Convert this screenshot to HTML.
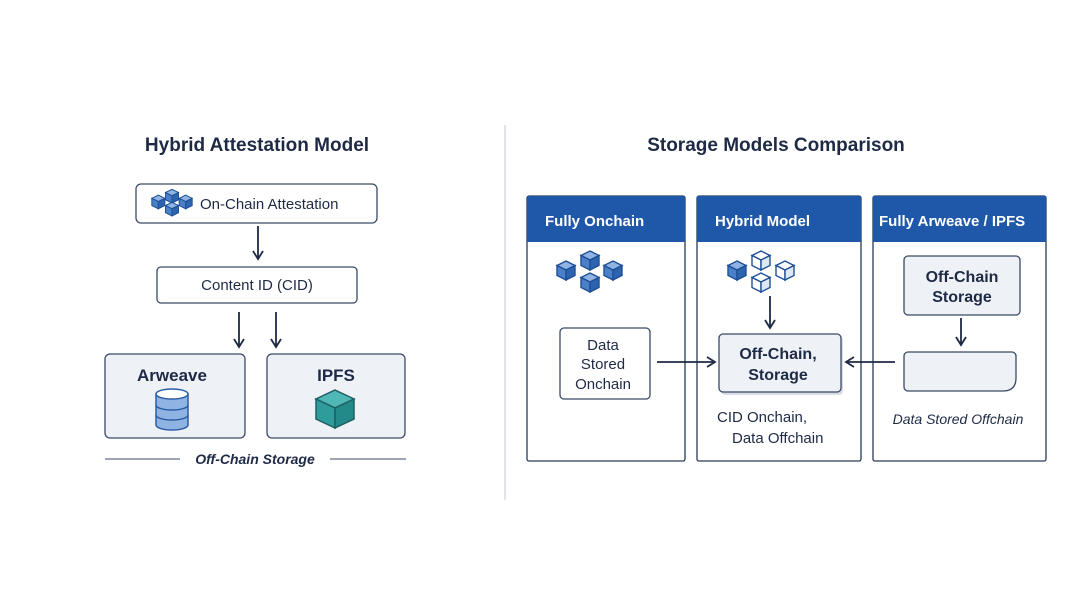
<!DOCTYPE html>
<html><head><meta charset="utf-8"><style>
body{margin:0;background:#fff;width:1080px;height:608px;overflow:hidden;font-family:"Liberation Sans",sans-serif}
svg text{font-family:"Liberation Sans",sans-serif;fill:#1e2a45}
</style></head><body>
<svg width="1080" height="608" viewBox="0 0 1080 608">
<defs>
<g id="cube">
<polygon points="0,-9 9,-4.5 0,0 -9,-4.5" fill="#8fb4e3" stroke="#1e4f96" stroke-width="1.4"/>
<polygon points="-9,-4.5 0,0 0,10 -9,5.5" fill="#4a80c8" stroke="#1e4f96" stroke-width="1.4"/>
<polygon points="9,-4.5 0,0 0,10 9,5.5" fill="#2d64b0" stroke="#1e4f96" stroke-width="1.4"/>
</g>
<g id="wcube">
<polygon points="0,-9 9,-4.5 0,0 -9,-4.5" fill="#fff" stroke="#1e4f96" stroke-width="1.4"/>
<polygon points="-9,-4.5 0,0 0,10 -9,5.5" fill="#fff" stroke="#1e4f96" stroke-width="1.4"/>
<polygon points="9,-4.5 0,0 0,10 9,5.5" fill="#dde8f6" stroke="#1e4f96" stroke-width="1.4"/>
</g>
<marker id="ah" markerWidth="12" markerHeight="12" refX="10" refY="6" orient="auto" markerUnits="userSpaceOnUse">
<path d="M2,1 L10,6 L2,11" fill="none" stroke="#1e2a45" stroke-width="1.8"/>
</marker>
</defs>
<text x="257" y="151" font-size="19" font-weight="bold" text-anchor="middle">Hybrid Attestation Model</text>
<rect x="136" y="184" width="241" height="39" rx="5" fill="#fff" stroke="#3a4a66" stroke-width="1.3"/>
<g transform="translate(172,203) scale(0.72)"><use href="#cube" x="-19" y="-2"/><use href="#cube" x="0" y="-10"/><use href="#cube" x="19" y="-2"/><use href="#cube" x="0" y="8"/></g>
<text x="200" y="209" font-size="15">On-Chain Attestation</text>
<rect x="157" y="267" width="200" height="36" rx="4" fill="#fff" stroke="#3a4a66" stroke-width="1.3"/>
<text x="257" y="290" font-size="15" text-anchor="middle">Content ID (CID)</text>
<rect x="105" y="354" width="140" height="84" rx="5" fill="#eef1f6" stroke="#3a4a66" stroke-width="1.3"/>
<text x="172" y="381" font-size="17" font-weight="bold" text-anchor="middle">Arweave</text>
<g fill="#8fb4e3" stroke="#2d5da6" stroke-width="1.5">
<path d="M156,394 v31 a16,5 0 0 0 32,0 v-31"/>
<path d="M156,405 a16,5 0 0 0 32,0 M156,415 a16,5 0 0 0 32,0" fill="none"/>
<ellipse cx="172" cy="394" rx="16" ry="5" fill="#fff"/>
</g>
<rect x="267" y="354" width="138" height="84" rx="5" fill="#eef1f6" stroke="#3a4a66" stroke-width="1.3"/>
<text x="336" y="381" font-size="17" font-weight="bold" text-anchor="middle">IPFS</text>
<g stroke="#1f5f63" stroke-width="1.5">
<polygon points="335,390 354,399 335,408 316,399" fill="#4fb7b5"/>
<polygon points="316,399 335,408 335,428 316,419" fill="#2e9c9a"/>
<polygon points="354,399 335,408 335,428 354,419" fill="#238a89"/>
</g>
<line x1="105" y1="459" x2="180" y2="459" stroke="#3a4a66" stroke-width="1"/>
<line x1="330" y1="459" x2="406" y2="459" stroke="#3a4a66" stroke-width="1"/>
<text x="255" y="464" font-size="14" font-weight="bold" font-style="italic" text-anchor="middle">Off-Chain Storage</text>
<line x1="505" y1="125" x2="505" y2="500" stroke="#cfd3da" stroke-width="1.2"/>
<text x="776" y="151" font-size="19" font-weight="bold" text-anchor="middle">Storage Models Comparison</text>
<g stroke="#2a3a58" stroke-width="1.3">
<rect x="527" y="196" width="158" height="265" rx="2" fill="#fff"/>
<rect x="697" y="196" width="164" height="265" rx="2" fill="#fff"/>
<rect x="873" y="196" width="173" height="265" rx="2" fill="#fff"/>
</g>
<g fill="#1f58a8">
<rect x="527" y="196" width="158" height="46"/>
<rect x="697" y="196" width="164" height="46"/>
<rect x="873" y="196" width="173" height="46"/>
</g>
<g font-size="15" font-weight="bold">
<text x="545" y="226" style="fill:#fff">Fully Onchain</text>
<text x="715" y="226" style="fill:#fff">Hybrid Model</text>
<text x="879" y="226" style="fill:#fff">Fully Arweave / IPFS</text>
</g>
<g><use href="#cube" x="566" y="270"/><use href="#cube" x="590" y="260"/><use href="#cube" x="613" y="270"/><use href="#cube" x="590" y="282"/></g>
<g><use href="#cube" x="737" y="270"/><use href="#wcube" x="761" y="260"/><use href="#wcube" x="785" y="270"/><use href="#wcube" x="761" y="282"/></g>
<rect x="560" y="328" width="90" height="71" rx="4" fill="#fff" stroke="#3a4a66" stroke-width="1.3"/>
<g font-size="15" text-anchor="middle"><text x="603" y="350">Data</text><text x="603" y="369">Stored</text><text x="603" y="389">Onchain</text></g>
<rect x="721" y="337" width="122" height="58" rx="4" fill="#d8dde6"/>
<rect x="719" y="334" width="122" height="58" rx="4" fill="#eef1f6" stroke="#3a4a66" stroke-width="1.3"/>
<g font-size="16" font-weight="bold" text-anchor="middle"><text x="778" y="359">Off-Chain,</text><text x="778" y="380">Storage</text></g>
<text x="717" y="422" font-size="15">CID Onchain,</text>
<text x="732" y="443" font-size="15">Data Offchain</text>
<rect x="904" y="256" width="116" height="59" rx="4" fill="#eef1f6" stroke="#3a4a66" stroke-width="1.3"/>
<g font-size="16" font-weight="bold" text-anchor="middle"><text x="962" y="282">Off-Chain</text><text x="962" y="302">Storage</text></g>
<path d="M904,356 a4,4 0 0 1 4,-4 h104 a4,4 0 0 1 4,4 v22 q0,13 -13,13 h-95 a4,4 0 0 1 -4,-4 z" fill="#eef1f6" stroke="#3a4a66" stroke-width="1.3"/>
<text x="958" y="424" font-size="14" font-style="italic" text-anchor="middle">Data Stored Offchain</text>
<g stroke="#1e2a45" stroke-width="1.8" fill="none" marker-end="url(#ah)">
<line x1="258" y1="226" x2="258" y2="259"/>
<line x1="239" y1="312" x2="239" y2="347"/>
<line x1="276" y1="312" x2="276" y2="347"/>
<line x1="770" y1="296" x2="770" y2="328"/>
<line x1="657" y1="362" x2="715" y2="362"/>
<line x1="895" y1="362" x2="846" y2="362"/>
<line x1="961" y1="318" x2="961" y2="345"/>
</g>
</svg>
</body></html>
